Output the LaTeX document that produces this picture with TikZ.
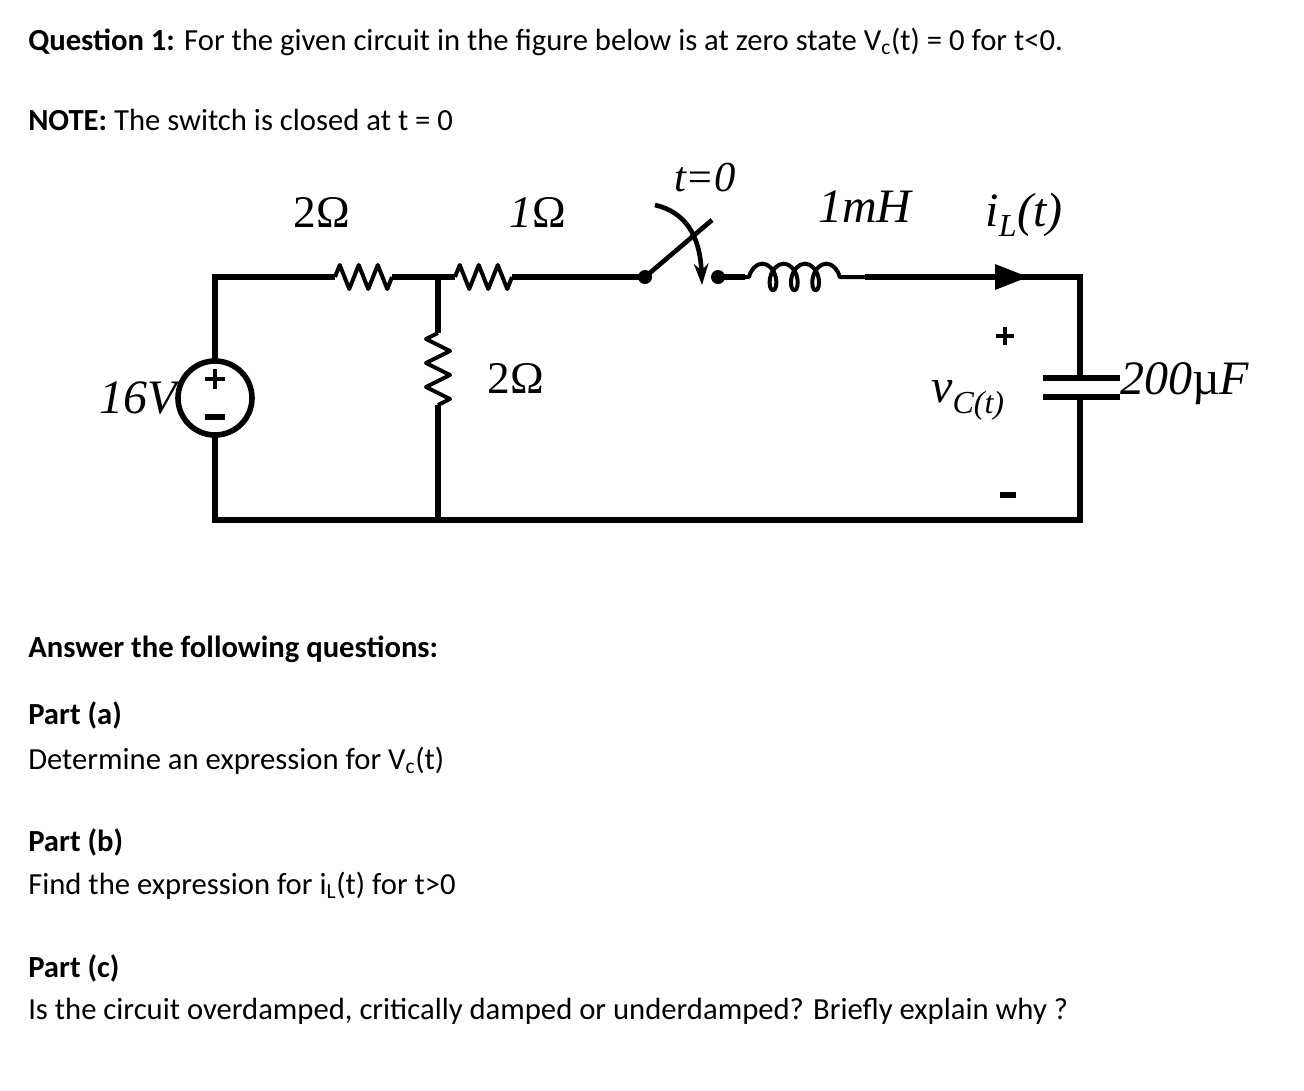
\documentclass[tikz,border=0pt]{standalone}
\usepackage{fontspec}
\setmainfont{Carlito}
\newfontfamily\tms{Liberation Serif}
\usetikzlibrary{decorations.pathmorphing,arrows.meta}
\begin{document}
\begin{tikzpicture}[x=0.75pt,y=-0.75pt,
  w/.style={line width=4.2pt,line join=miter},
  rz/.style={line width=3pt,line join=round},
  lbl/.style={font=\tms\fontsize{34}{34}\selectfont,inner sep=0pt},
  ilbl/.style={font=\tms\itshape\fontsize{36}{36}\selectfont,inner sep=0pt},
  txt/.style={font=\fontsize{23}{23}\selectfont,anchor=base west,inner sep=0pt}]
\useasboundingbox (0,0) rectangle (1304,1090);
% text
\node[txt] (q1) at (28,50) {\textbf{Question 1:} For the given circuit in the figure below is at zero state V\textsubscript{c}(t) = 0 for t<0.};
\node[txt] (note) at (28,130) {\textbf{NOTE:} The switch is closed at t = 0};
\node[txt] (ans) at (28,657) {\textbf{Answer the following questions:}};
\node[txt] (pa) at (28,724) {\textbf{Part (a)}};
\node[txt] (pat) at (28,769) {Determine an expression for V\textsubscript{c}(t)};
\node[txt] (pb) at (28,851) {\textbf{Part (b)}};
\node[txt] (pbt) at (28,894) {Find the expression for i\textsubscript{L}(t) for t>0};
\node[txt] (pc) at (28,977) {\textbf{Part (c)}};
\node[txt] (pct) at (28,1019) {Is the circuit overdamped, critically damped or underdamped? Briefly explain why ?};
% coordinates
\coordinate (TL) at (215,277);
\coordinate (BL) at (215,520);
\coordinate (J) at (438,277);
\coordinate (JB) at (438,520);
\coordinate (TR) at (1080,277);
\coordinate (BR) at (1080,520);
\coordinate (S1) at (645,277);
\coordinate (S2) at (718,277);
\coordinate (La) at (745,277);
\coordinate (Lb) at (865,277);
\coordinate (C1) at (1080,378);
\coordinate (C2) at (1080,397);
\coordinate (srcN) at (215,361);
\coordinate (srcS) at (215,435);
\coordinate (srcW) at (178,398);
% source
\draw[line width=4.2pt] (215,398) circle (37);
\draw[line width=3.5pt] (215,369) -- (215,389) (205,379) -- (225,379);
\draw[line width=4pt] (205,417) -- (225,417);
\node[ilbl,anchor=east] (v16) at ([xshift=-1pt]srcW) {16V};
% wires
\draw[w] (srcN) -- (TL) -- (335,277);
\draw[rz] (335,277) -- ++(4.75,-12) -- ++(9.5,24) -- ++(9.5,-24) -- ++(9.5,24) -- ++(9.5,-24) -- ++(9.5,24) -- ++(4.75,-12);
\draw[w] (392,277) -- (J) -- (455,277);
\draw[rz] (455,277) -- ++(4.75,-12) -- ++(9.5,24) -- ++(9.5,-24) -- ++(9.5,24) -- ++(9.5,-24) -- ++(9.5,24) -- ++(4.75,-12);
\draw[w] (512,277) -- (S1);
\draw[w] (J) -- (438,333);
\draw[rz] (438,333) -- ++(-12,6) -- ++(24,12) -- ++(-24,12) -- ++(24,12) -- ++(-24,12) -- ++(24,12) -- ++(-12,6);
\draw[w] (438,405) -- (JB);
\draw[w] (srcS) -- (BL) -- (BR) -- (C2);
\draw[w] (C1) -- (TR) -- (Lb);
\draw[w] (S2) -- (La);
\draw[rz,decorate,decoration={coil,aspect=0.6,segment length=16pt,amplitude=10pt,pre length=3pt,post length=3pt}] (La) -- (Lb);
% capacitor
\draw[line width=5pt] (1043,378) -- (1120,378) (1043,397) -- (1120,397);
% switch
\fill (S1) circle (7);
\fill (S2) circle (7);
\draw[line width=3.5pt] (S1) -- (712,220);
\draw[line width=3.5pt,-{Stealth[length=16pt,width=11pt]}] (655,205) .. controls (685,212) and (700,235) .. (702,285);
% arrow on wire
\fill (995,264) -- (1028,277) -- (995,290) -- cycle;
% labels
\node[lbl] (r1) at (322,212) {2Ω};
\node[lbl] (r2) at (538,212) {{\itshape 1}Ω};
\node[lbl] (r3) at (516,378) {2Ω};
\node[ilbl,font=\tms\itshape\fontsize{32}{32}\selectfont] (t0) at (705,178) {t=0};
\node[ilbl] (lh) at (865,207) {1mH};
\node[ilbl] (il) at (1024,215) {i\textsubscript{\fontsize{24}{24}\selectfont L}(t)};
\node[ilbl] (vc) at (968,400) {v\textsubscript{\fontsize{24}{24}\selectfont C(t)}};
\node[ilbl,anchor=west] (cf) at (1120,384) {200{\upshape µ}F};
\draw[line width=3.5pt] (1005,327) -- (1005,345) (996,336) -- (1014,336);
\draw[line width=4pt] (1000,495) -- (1016,495);
\end{tikzpicture}
\end{document}
